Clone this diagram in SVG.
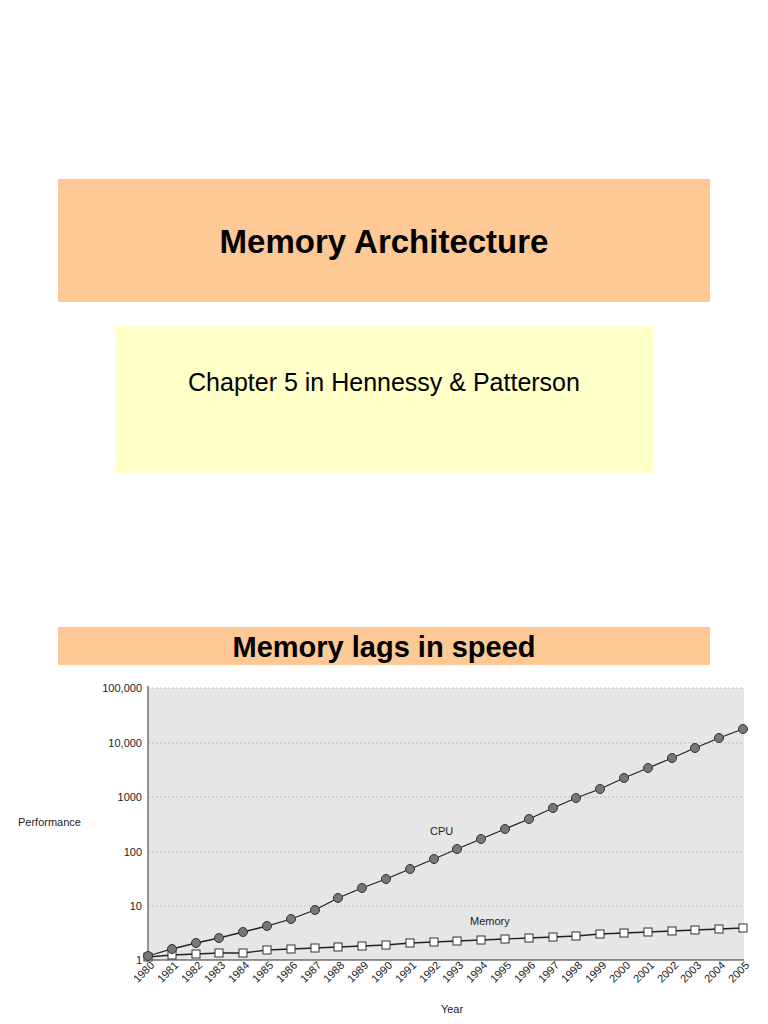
<svg xmlns="http://www.w3.org/2000/svg" width="768" height="1024" viewBox="0 0 768 1024">
<style>
.t{font-family:"Liberation Sans",Arial,sans-serif;fill:#000}
.ax{font-family:"Liberation Sans",Arial,sans-serif;font-size:11px;fill:#222}
.g{stroke:#b4b4b4;stroke-width:0.8;stroke-dasharray:2,2}
.c{fill:#777;stroke:#333;stroke-width:1}
.m{fill:#fff;stroke:#333;stroke-width:1}
</style>
<rect width="768" height="1024" fill="#fff"/>
<g id="title"><rect x="58" y="179" width="652" height="123" fill="#fec994"/><text class="t" x="384" y="253" font-size="33" font-weight="bold" text-anchor="middle">Memory Architecture</text></g>
<g id="subtitle"><rect x="115" y="326" width="538" height="147" fill="#ffffc8"/><text class="t" x="384" y="391" font-size="25" text-anchor="middle">Chapter 5 in Hennessy &amp; Patterson</text></g>
<g id="title2"><rect x="58" y="627" width="652" height="38" fill="#fec994"/><text class="t" x="384" y="657" font-size="29" font-weight="bold" text-anchor="middle">Memory lags in speed</text></g>
<g id="chart">
<rect x="148" y="688" width="596" height="272" fill="#e6e6e6"/>
<line class="g" x1="148" y1="688" x2="744" y2="688"/>
<line class="g" x1="148" y1="743" x2="744" y2="743"/>
<line class="g" x1="148" y1="797" x2="744" y2="797"/>
<line class="g" x1="148" y1="852" x2="744" y2="852"/>
<line class="g" x1="148" y1="906" x2="744" y2="906"/>
<path d="M148 686V960H744" fill="none" stroke="#333" stroke-width="1"/>
<g class="ax" text-anchor="end">
<text x="142" y="692">100,000</text><text x="142" y="747">10,000</text><text x="142" y="801">1000</text><text x="142" y="856">100</text><text x="142" y="910">10</text><text x="142" y="964">1</text>
</g>
<text class="ax" x="18" y="826">Performance</text>
<text class="ax" x="452" y="1013" text-anchor="middle">Year</text>
<text class="ax" x="430" y="835">CPU</text>
<text class="ax" x="470" y="925">Memory</text>
<g class="ax" text-anchor="end">
<text transform="translate(155,966) rotate(-45)">1980</text>
<text transform="translate(179,966) rotate(-45)">1981</text>
<text transform="translate(203,966) rotate(-45)">1982</text>
<text transform="translate(226,966) rotate(-45)">1983</text>
<text transform="translate(250,966) rotate(-45)">1984</text>
<text transform="translate(274,966) rotate(-45)">1985</text>
<text transform="translate(298,966) rotate(-45)">1986</text>
<text transform="translate(322,966) rotate(-45)">1987</text>
<text transform="translate(345,966) rotate(-45)">1988</text>
<text transform="translate(369,966) rotate(-45)">1989</text>
<text transform="translate(393,966) rotate(-45)">1990</text>
<text transform="translate(417,966) rotate(-45)">1991</text>
<text transform="translate(441,966) rotate(-45)">1992</text>
<text transform="translate(464,966) rotate(-45)">1993</text>
<text transform="translate(488,966) rotate(-45)">1994</text>
<text transform="translate(512,966) rotate(-45)">1995</text>
<text transform="translate(536,966) rotate(-45)">1996</text>
<text transform="translate(560,966) rotate(-45)">1997</text>
<text transform="translate(583,966) rotate(-45)">1998</text>
<text transform="translate(607,966) rotate(-45)">1999</text>
<text transform="translate(631,966) rotate(-45)">2000</text>
<text transform="translate(655,966) rotate(-45)">2001</text>
<text transform="translate(679,966) rotate(-45)">2002</text>
<text transform="translate(702,966) rotate(-45)">2003</text>
<text transform="translate(726,966) rotate(-45)">2004</text>
<text transform="translate(750,966) rotate(-45)">2005</text>
</g>
<polyline fill="none" stroke="#222" stroke-width="1.3" points="148,957 172,955 196,954 219,953 243,953 267,950 291,949 315,948 338,947 362,946 386,945 410,943 434,942 457,941 481,940 505,939 529,938 553,937 576,936 600,934 624,933 648,932 672,931 695,930 719,929 743,928"/>
<polyline fill="none" stroke="#222" stroke-width="1.3" points="148,956 172,949 196,943 219,938 243,932 267,926 291,919 315,910 338,898 362,888 386,879 410,869 434,859 457,849 481,839 505,829 529,819 553,808 576,798 600,789 624,778 648,768 672,758 695,748 719,738 743,729"/>
<g class="m">
<rect x="144" y="953" width="8" height="8"/><rect x="168" y="951" width="8" height="8"/><rect x="192" y="950" width="8" height="8"/><rect x="215" y="949" width="8" height="8"/><rect x="239" y="949" width="8" height="8"/><rect x="263" y="946" width="8" height="8"/><rect x="287" y="945" width="8" height="8"/><rect x="311" y="944" width="8" height="8"/><rect x="334" y="943" width="8" height="8"/><rect x="358" y="942" width="8" height="8"/><rect x="382" y="941" width="8" height="8"/><rect x="406" y="939" width="8" height="8"/><rect x="430" y="938" width="8" height="8"/><rect x="453" y="937" width="8" height="8"/><rect x="477" y="936" width="8" height="8"/><rect x="501" y="935" width="8" height="8"/><rect x="525" y="934" width="8" height="8"/><rect x="549" y="933" width="8" height="8"/><rect x="572" y="932" width="8" height="8"/><rect x="596" y="930" width="8" height="8"/><rect x="620" y="929" width="8" height="8"/><rect x="644" y="928" width="8" height="8"/><rect x="668" y="927" width="8" height="8"/><rect x="691" y="926" width="8" height="8"/><rect x="715" y="925" width="8" height="8"/><rect x="739" y="924" width="8" height="8"/>
</g>
<g class="c">
<circle cx="148" cy="956" r="4.5"/><circle cx="172" cy="949" r="4.5"/><circle cx="196" cy="943" r="4.5"/><circle cx="219" cy="938" r="4.5"/><circle cx="243" cy="932" r="4.5"/><circle cx="267" cy="926" r="4.5"/><circle cx="291" cy="919" r="4.5"/><circle cx="315" cy="910" r="4.5"/><circle cx="338" cy="898" r="4.5"/><circle cx="362" cy="888" r="4.5"/><circle cx="386" cy="879" r="4.5"/><circle cx="410" cy="869" r="4.5"/><circle cx="434" cy="859" r="4.5"/><circle cx="457" cy="849" r="4.5"/><circle cx="481" cy="839" r="4.5"/><circle cx="505" cy="829" r="4.5"/><circle cx="529" cy="819" r="4.5"/><circle cx="553" cy="808" r="4.5"/><circle cx="576" cy="798" r="4.5"/><circle cx="600" cy="789" r="4.5"/><circle cx="624" cy="778" r="4.5"/><circle cx="648" cy="768" r="4.5"/><circle cx="672" cy="758" r="4.5"/><circle cx="695" cy="748" r="4.5"/><circle cx="719" cy="738" r="4.5"/><circle cx="743" cy="729" r="4.5"/>
</g>
</g>
</svg>
